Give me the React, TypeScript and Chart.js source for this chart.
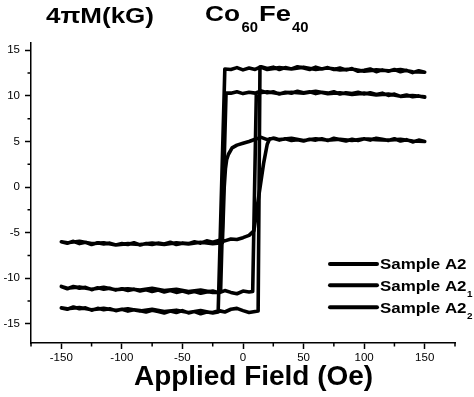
import React, { useEffect, useRef } from 'react';
import { Chart, registerables } from 'chart.js';

Chart.register(...registerables);

// ---------- axes ----------
const xRange = [-175, 175];
const yRange = [-17.1, 15.8];
const xMajorTicks = [-150, -100, -50, 0, 50, 100, 150];
const xMinorTicks = [-175, -125, -75, -25, 25, 75, 125, 175];
const yMajorTicks = [-15, -10, -5, 0, 5, 10, 15];
const yMinorTicks = [-12.5, -7.5, -2.5, 2.5, 7.5, 12.5];

// ---------- texts ----------
const yTitle = '4\u03C0M(kG)';
const alloyParts = ['Co', '60', 'Fe', '40'];
const xTitle = 'Applied Field (Oe)';
const seriesNames = ['Sample A2', 'Sample A2', 'Sample A2'];
const seriesSubs = ['', '1', '2'];

// ---------- Sample A2 (largest loop) ----------
const fieldA2 = [
  150, 145, 140, 135, 130, 125, 120, 115, 110, 105, 100, 95, 90, 85, 80, 75, 70, 65, 60, 55, 50, 45, 40, 35, 30, 25, 20, 15, 10, 5, 0, -5, -10, -15,
  -20.5, -25, -35, -45, -55, -65, -75, -85, -95, -105, -115, -125, -135, -145, -150,
  -145, -140, -135, -130, -125, -120, -115, -110, -105, -100, -95, -90, -85, -80, -75, -70, -65, -60, -55, -50, -45, -40, -35, -30, -25, -20, -15, -10, -5, 0, 5, 10,
  12.5, 14,
  20, 30, 40, 50, 60, 70, 80, 90, 100, 110, 120, 130, 140, 150,
];
const momentA2 = [
  12.6, 12.75, 12.55, 12.8, 12.65, 12.9, 12.7, 12.85, 12.65, 12.95, 12.8, 12.7, 13.0, 12.85, 13.05, 12.9, 13.1, 12.95, 13.15, 12.9, 13.05, 13.2, 12.95, 13.1, 12.9, 13.15, 13.0, 13.2, 12.9, 13.05, 12.85, 13.1, 12.9, 12.95,
  -13.7, -13.8, -13.55, -13.75, -13.5, -13.65, -13.4, -13.6, -13.35, -13.5, -13.3, -13.45, -13.2, -13.35, -13.25,
  -13.4, -13.15, -13.35, -13.25, -13.5, -13.3, -13.45, -13.35, -13.55, -13.4, -13.6, -13.45, -13.55, -13.7, -13.5, -13.65, -13.8, -13.6, -13.75, -13.55, -13.8, -13.65, -13.9, -13.7, -13.75, -13.55, -13.7, -13.4, -13.3, -13.55, -13.75, -13.65,
  -13.6, 13.2,
  12.9, 13.1, 12.95, 13.15, 12.9, 13.05, 12.85, 12.95, 12.7, 12.85, 12.75, 12.9, 12.65, 12.6,
];

// ---------- Sample A2_1 (middle loop) ----------
const fieldA21 = [
  150, 145, 140, 135, 130, 125, 120, 115, 110, 105, 100, 95, 90, 85, 80, 75, 70, 65, 60, 55, 50, 45, 40, 35, 30, 25, 20, 15, 10, 5, 0, -5, -10, -14,
  -18.5, -25, -35, -45, -55, -65, -75, -85, -95, -105, -115, -125, -135, -145, -150,
  -145, -140, -135, -130, -125, -120, -115, -110, -105, -100, -95, -90, -85, -80, -75, -70, -65, -60, -55, -50, -45, -40, -35, -30, -25, -20, -15, -10, -5, 0, 5,
  8, 11,
  20, 30, 40, 50, 60, 70, 80, 90, 100, 110, 120, 130, 140, 150,
];
const momentA21 = [
  9.85, 10.0, 9.9, 10.1, 9.95, 10.2, 10.05, 10.3, 10.15, 10.35, 10.2, 10.4, 10.25, 10.35, 10.2, 10.45, 10.3, 10.4, 10.25, 10.45, 10.35, 10.5, 10.3, 10.4, 10.2, 10.45, 10.35, 10.55, 10.3, 10.4, 10.25, 10.45, 10.3, 10.3,
  -11.5, -11.55, -11.3, -11.45, -11.2, -11.35, -11.1, -11.3, -11.15, -11.25, -11.0, -11.2, -10.95, -11.1, -10.9,
  -11.15, -10.9, -11.1, -11.0, -11.25, -11.05, -11.2, -11.1, -11.3, -11.15, -11.35, -11.2, -11.4, -11.25, -11.45, -11.3, -11.5, -11.35, -11.55, -11.4, -11.6, -11.45, -11.65, -11.5, -11.4, -11.6, -11.35, -11.55, -11.7, -11.4, -11.5,
  -11.45, 10.3,
  10.45, 10.25, 10.4, 10.3, 10.5, 10.25, 10.35, 10.15, 10.3, 10.1, 10.2, 9.95, 10.05, 9.9,
];

// ---------- Sample A2_2 (smallest loop) ----------
const fieldA22 = [
  150, 145, 140, 135, 130, 125, 120, 115, 110, 105, 100, 95, 90, 85, 80, 75, 70, 65, 60, 55, 50, 45, 40, 35, 30, 25, 20, 15, 10, 5, 0,
  -5, -9, -12, -13.5, -14.5, -15.5, -17,
  -25, -35, -45, -55, -65, -75, -85, -95, -105, -115, -125, -135, -145, -150,
  -145, -140, -135, -130, -125, -120, -115, -110, -105, -100, -95, -90, -85, -80, -75, -70, -65, -60, -55, -50, -45, -40, -35, -30, -25, -20, -15, -10, -5, 0, 5,
  9, 13, 17, 20, 22, 26,
  30, 40, 50, 60, 70, 80, 90, 100, 110, 120, 130, 140, 150,
];
const momentA22 = [
  5.0, 5.15, 4.95, 5.2, 5.05, 5.3, 5.1, 5.25, 5.35, 5.15, 5.3, 5.1, 5.25, 5.05, 5.2, 5.35, 5.1, 5.3, 5.15, 5.25, 5.05, 5.2, 5.1, 5.3, 5.15, 5.35, 5.2, 5.45, 5.25, 5.0, 4.8,
  4.6, 4.3, 3.6, 3.0, 2.0, 0, -6.1,
  -6.2, -6.05, -6.25, -6.1, -6.3, -6.15, -6.3, -6.2, -6.35, -6.1, -6.2, -5.95, -6.1, -6.0,
  -6.15, -5.95, -6.2, -6.05, -6.3, -6.1, -6.25, -6.15, -6.35, -6.2, -6.3, -6.1, -6.35, -6.2, -6.3, -6.15, -6.25, -6.05, -6.3, -6.15, -6.2, -6.0, -6.15, -5.9, -6.05, -5.85, -5.9, -5.7, -5.75, -5.55, -5.3,
  -4.8, -1.0, 2.6, 4.7, 5.3, 5.35,
  5.2, 5.35, 5.1, 5.3, 5.15, 5.25, 5.1, 5.3, 5.2, 5.15, 5.25, 5.05, 5.0,
];

const seriesFields = [fieldA2, fieldA21, fieldA22];
const seriesMoments = [momentA2, momentA21, momentA22];

const FONT = '"Liberation Sans", Arial, Helvetica, sans-serif';

function fitText(ctx: CanvasRenderingContext2D, text: string, x: number, y: number, w: number, font: string) {
  ctx.save();
  ctx.font = font;
  ctx.textAlign = 'left';
  ctx.textBaseline = 'alphabetic';
  const m = ctx.measureText(text).width || 1;
  ctx.translate(x, y);
  ctx.scale(w / m, 1);
  ctx.fillStyle = '#000';
  ctx.fillText(text, 0, 0);
  ctx.restore();
}

const decorPlugin = {
  id: 'decor',
  afterDraw(chart: any) {
    const ctx: CanvasRenderingContext2D = chart.ctx;
    const xs = chart.scales.x;
    const ys = chart.scales.y;
    const area = chart.chartArea;
    // minor ticks
    ctx.save();
    ctx.strokeStyle = '#000';
    ctx.lineWidth = 1.5;
    ctx.beginPath();
    xMinorTicks.forEach((v) => {
      const px = xs.getPixelForValue(v);
      ctx.moveTo(px, area.bottom);
      ctx.lineTo(px, area.bottom + 3.5);
    });
    yMinorTicks.forEach((v) => {
      const py = ys.getPixelForValue(v);
      ctx.moveTo(area.left, py);
      ctx.lineTo(area.left - 3.5, py);
    });
    ctx.stroke();
    ctx.restore();

    // titles
    fitText(ctx, yTitle, 46, 22.5, 108, `bold 22px ${FONT}`);
    fitText(ctx, alloyParts[0], 205, 21, 35, `bold 22px ${FONT}`);
    fitText(ctx, alloyParts[1], 241.5, 31.5, 16.5, `bold 14px ${FONT}`);
    fitText(ctx, alloyParts[2], 259, 21, 32, `bold 22px ${FONT}`);
    fitText(ctx, alloyParts[3], 292, 31.5, 16.5, `bold 14px ${FONT}`);
    fitText(ctx, xTitle, 134, 384.5, 239, `bold 28px ${FONT}`);

    // legend
    const baselines = [269.3, 290.5, 312.5];
    ctx.save();
    ctx.strokeStyle = '#000';
    ctx.lineWidth = 4;
    ctx.lineCap = 'round';
    baselines.forEach((b, i) => {
      ctx.beginPath();
      ctx.moveTo(330, b - 5.2);
      ctx.lineTo(377, b - 5.2);
      ctx.stroke();
      fitText(ctx, seriesNames[i], 380, b, 86.5, `bold 15.5px ${FONT}`);
      if (seriesSubs[i]) fitText(ctx, seriesSubs[i], 467, b + 6, 5.5, `bold 9.5px ${FONT}`);
    });
    ctx.restore();
  },
};

export default function App() {
  const ref = useRef<HTMLCanvasElement | null>(null);
  useEffect(() => {
    document.body.style.margin = '0';
    const canvas = ref.current;
    if (!canvas) return;
    const datasets = seriesFields.map((f, i) => ({
      label: seriesNames[i] + seriesSubs[i],
      data: f.map((x, j) => ({ x, y: seriesMoments[i][j] })),
      showLine: true,
      borderColor: '#000',
      backgroundColor: '#000',
      borderWidth: 3.6,
      pointRadius: 0,
      tension: 0,
      borderJoinStyle: 'round' as const,
      borderCapStyle: 'round' as const,
    }));
    const chart = new Chart(canvas, {
      type: 'scatter',
      data: { datasets },
      options: {
        animation: false,
        responsive: false,
        devicePixelRatio: 1,
        layout: { padding: { top: 43, right: 19, left: 0, bottom: 0 } },
        plugins: { legend: { display: false }, tooltip: { enabled: false } },
        scales: {
          x: {
            type: 'linear',
            min: xRange[0],
            max: xRange[1],
            afterBuildTicks: (s: any) => {
              s.ticks = xMajorTicks.map((v) => ({ value: v }));
            },
            afterFit: (s: any) => {
              s.height = 54;
            },
            grid: { display: true, drawOnChartArea: false, drawTicks: true, tickLength: 6, tickWidth: 1.5, tickColor: '#000', color: '#000' },
            border: { display: true, color: '#000', width: 1.5 },
            ticks: { color: '#000', font: { family: FONT, size: 11.5 }, padding: 2, maxRotation: 0, autoSkip: false },
          },
          y: {
            type: 'linear',
            min: yRange[0],
            max: yRange[1],
            afterBuildTicks: (s: any) => {
              s.ticks = yMajorTicks.map((v) => ({ value: v }));
            },
            afterFit: (s: any) => {
              s.width = 31;
            },
            grid: { display: true, drawOnChartArea: false, drawTicks: true, tickLength: 6, tickWidth: 1.5, tickColor: '#000', color: '#000' },
            border: { display: true, color: '#000', width: 1.5 },
            ticks: { color: '#000', font: { family: FONT, size: 11.5 }, padding: 5, autoSkip: false },
          },
        },
      },
      plugins: [decorPlugin],
    });
    return () => chart.destroy();
  }, []);
  return (
    <div style={{ width: 474, height: 397, position: 'relative' }}>
      <canvas ref={ref} width={474} height={397} style={{ display: 'block' }} />
    </div>
  );
}
